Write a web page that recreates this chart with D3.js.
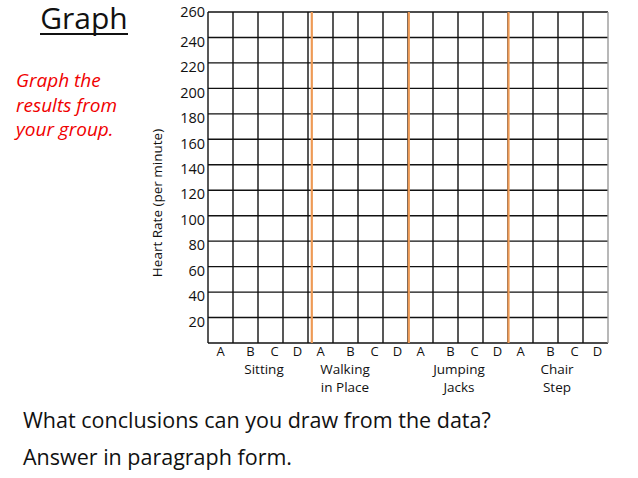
<!DOCTYPE html>
<html>
<head>
<meta charset="utf-8">
<script src="https://cdn.jsdelivr.net/npm/d3@7"></script>
<style>
  body { margin: 0; background: #fff; }
  svg { display: block; font-family: "Open Sans", sans-serif; }
</style>
</head>
<body>
<div id="graph"></div>
<script>
// activities and the four trials per activity
var groups = [["Sitting"], ["Walking", "in Place"], ["Jumping", "Jacks"], ["Chair", "Step"]];
var letters = ["A", "B", "C", "D"];
var yTicks = [20, 40, 60, 80, 100, 120, 140, 160, 180, 200, 220, 240, 260];
var yMax = 260;

// small nudges so the letters sit like the hand-typed labels
var letterDx = [0, 5, 4, 2];
var groupDx = [6, -13, 1, -1];

var W = 638, H = 478;
var plotLeft = 208, plotRight = 608, plotTop = 12, plotBottom = 343;

var svg = d3.select("#graph").append("svg")
    .attr("width", W)
    .attr("height", H);

var columns = [];
groups.forEach(function(g, gi) {
    letters.forEach(function(l, li) {
        columns.push({key: gi + "-" + l, group: gi, letter: l, li: li});
    });
});

var x = d3.scaleBand()
    .domain(columns.map(function(d) { return d.key; }))
    .range([plotLeft, plotRight])
    .padding(0);

var y = d3.scaleLinear()
    .domain([0, yMax])
    .range([plotBottom, plotTop]);

// horizontal grid
svg.selectAll("line.hgrid")
    .data([0].concat(yTicks))
    .enter().append("line")
    .attr("class", "hgrid")
    .attr("x1", plotLeft)
    .attr("x2", plotRight)
    .attr("y1", function(d) { return y(d); })
    .attr("y2", function(d) { return y(d); })
    .style("stroke", "#111")
    .style("stroke-width", 1.4);

// vertical grid
var vx = columns.map(function(d) { return x(d.key); }).concat([plotRight]);
svg.selectAll("line.vgrid")
    .data(vx)
    .enter().append("line")
    .attr("class", "vgrid")
    .attr("x1", function(d) { return d; })
    .attr("x2", function(d) { return d; })
    .attr("y1", plotTop)
    .attr("y2", plotBottom)
    .style("stroke", function(d, i) { return i == vx.length - 1 ? "#9a9a9a" : "#111"; })
    .style("stroke-width", 1.4);

// orange separators between activities
var sepOffset = [3.8, 0.8, 0.5];
svg.selectAll("line.sep")
    .data(groups.slice(1))
    .enter().append("line")
    .attr("class", "sep")
    .attr("x1", function(d, i) { return x((i + 1) + "-A") + sepOffset[i]; })
    .attr("x2", function(d, i) { return x((i + 1) + "-A") + sepOffset[i]; })
    .attr("y1", plotTop)
    .attr("y2", plotBottom)
    .style("stroke", "#ee9a55")
    .style("stroke-width", 2.2);

// y axis labels
var yAxis = d3.axisLeft(y)
    .tickValues(yTicks)
    .tickSize(0)
    .tickPadding(3);

svg.append("g")
    .attr("transform", "translate(" + plotLeft + ",0)")
    .call(yAxis)
    .call(function(g) { g.select(".domain").remove(); })
    .selectAll("text")
    .attr("dy", function(d) { return d == yMax ? "0.32em" : "0.6em"; })
    .style("font-family", "Open Sans")
    .style("font-size", "14.5px")
    .style("fill", "#111");

svg.append("text")
    .attr("transform", "translate(162,203) rotate(-90)")
    .attr("text-anchor", "middle")
    .style("font-size", "13.5px")
    .style("fill", "#111")
    .text("Heart Rate (per minute)");

// letter labels under each column
svg.selectAll("text.letter")
    .data(columns)
    .enter().append("text")
    .attr("class", "letter")
    .attr("x", function(d) { return x(d.key) + x.bandwidth() / 2 + letterDx[d.li]; })
    .attr("y", plotBottom + 13)
    .attr("text-anchor", "middle")
    .style("font-size", "13px")
    .style("fill", "#111")
    .text(function(d) { return d.letter; });

// activity names
var gl = svg.selectAll("text.group")
    .data(groups)
    .enter().append("text")
    .attr("class", "group")
    .attr("text-anchor", "middle")
    .style("font-size", "13.5px")
    .style("fill", "#111");

gl.selectAll("tspan")
    .data(function(d, i) { return d.map(function(t) { return {t: t, gi: i}; }); })
    .enter().append("tspan")
    .attr("x", function(d) {
        return x(d.gi + "-A") + x.bandwidth() * 2 + groupDx[d.gi];
    })
    .attr("y", function(d, i) { return plotBottom + 31 + i * 18; })
    .text(function(d) { return d.t; });

// title
svg.append("text")
    .attr("x", 84)
    .attr("y", 29)
    .attr("text-anchor", "middle")
    .style("font-size", "30px")
    .style("fill", "#111")
    .text("Graph");

svg.append("line")
    .attr("x1", 40).attr("x2", 128)
    .attr("y1", 34).attr("y2", 34)
    .style("stroke", "#111")
    .style("stroke-width", 2);

// instruction in red
svg.append("text")
    .style("font-size", "19px")
    .style("font-style", "italic")
    .style("fill", "#f00000")
    .selectAll("tspan")
    .data(["Graph the", "results from", "your group."])
    .enter().append("tspan")
    .attr("x", 16)
    .attr("y", function(d, i) { return 87 + i * 24.5; })
    .text(function(d) { return d; });

// question below
svg.append("text")
    .style("font-size", "21.5px")
    .style("fill", "#111")
    .selectAll("tspan")
    .data(["What conclusions can you draw from the data?", "Answer in paragraph form."])
    .enter().append("tspan")
    .attr("x", 23)
    .attr("y", function(d, i) { return 428 + i * 37; })
    .text(function(d) { return d; });
</script>
</body>
</html>
